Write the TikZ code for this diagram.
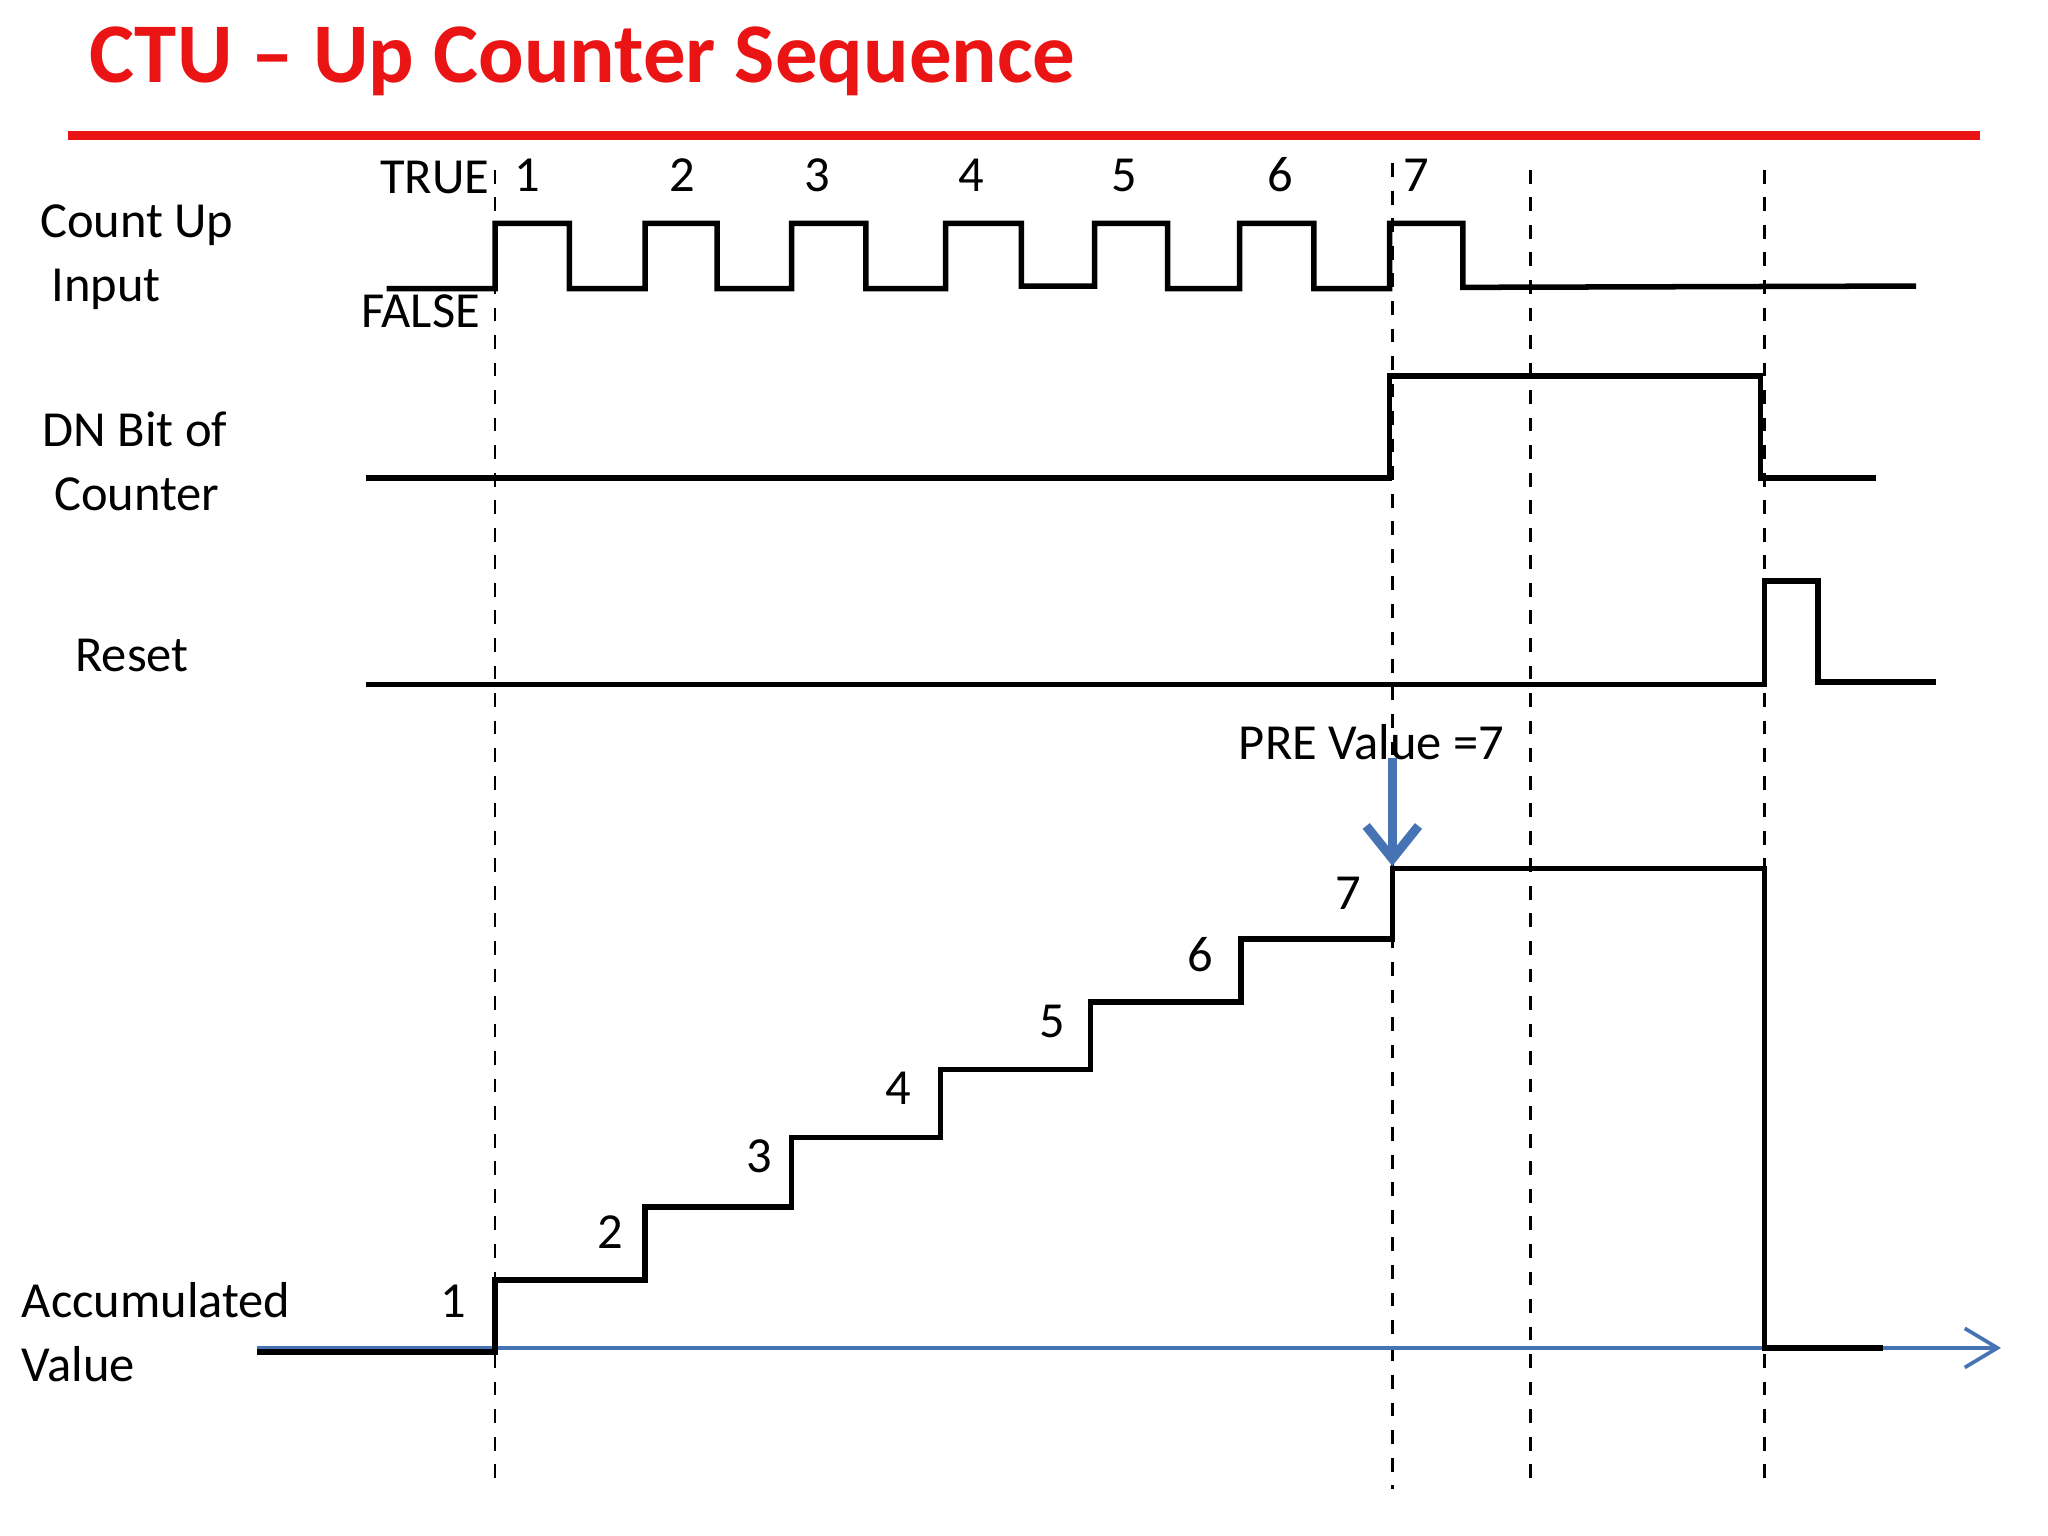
\documentclass[tikz,border=0pt]{standalone}
\usepackage{fontspec}
\setmainfont{Carlito}
\usetikzlibrary{arrows.meta}
\definecolor{tred}{RGB}{235,20,20}
\definecolor{tblue}{RGB}{70,115,180}
\begin{document}
\begin{tikzpicture}[x=0.1mm,y=-0.1mm,
  sig/.style={line width=1.2pt,black},
  grid/.style={dashed,line width=0.6pt},
  lbl/.style={font=\fontsize{11}{13}\selectfont,inner sep=0pt},
  rowlbl/.style={font=\fontsize{11}{14}\selectfont,align=left,anchor=west,inner sep=0pt}]
\useasboundingbox[fill=white] (0,0) rectangle (1568,1176);
\node[anchor=west,text=tred,font=\fontsize{18.5}{20}\selectfont\bfseries,inner sep=0pt] (title) at (68,47) {CTU – Up Counter Sequence};
\draw[tred,line width=2pt] (52,104) -- (1516,104);
% dashed lines
\foreach \x/\a/\b in {379/130/1140,1066/125/1140,1172/130/1135,1351/130/1140}
  \draw[grid] (\x,\a) -- (\x,\b);
% labels
\node[rowlbl] (l1) at (30,197) {Count Up\\ \ Input};
\node[rowlbl] (l2) at (32,353) {DN Bit of\\ \ Counter};
\node[rowlbl] (l3) at (57,502) {Reset};
\node[rowlbl] (l4) at (16,1020) {Accumulated\\Value};
\node[lbl] (tru) at (333,136) {TRUE};
\node[lbl] (fal) at (322,238) {FALSE};
\foreach \x/\n in {404/1,522/2,626/3,744/4,861/5,980/6,1084/7}
  \node[lbl] (c\n) at (\x,134) {\n};
% count up input
\draw[sig] (296,221) -- (379,221) -- (379,171) -- (436,171) -- (436,221)
  -- (494,221) -- (494,171) -- (549,171) -- (549,221)
  -- (606,221) -- (606,171) -- (663,171) -- (663,221)
  -- (724,221) -- (724,171) -- (782,171) -- (782,219)
  -- (838,219) -- (838,171) -- (894,171) -- (894,221)
  -- (949,221) -- (949,171) -- (1006,171) -- (1006,221)
  -- (1064,221) -- (1064,171) -- (1120,171) -- (1120,220) -- (1467,219);
% DN
\draw[sig] (280,366) -- (1064,366) -- (1064,288) -- (1348,288) -- (1348,366) -- (1436,366);
% Reset
\draw[sig] (280,524) -- (1351,524) -- (1351,445) -- (1392,445) -- (1392,522) -- (1482,522);
% axis
\draw[tblue,line width=0.8pt,-{Straight Barb[length=2.5mm,width=3mm]}] (197,1032) -- (1532,1032);
% accumulated
\draw[sig] (197,1035) -- (379,1035) -- (379,980) -- (494,980) -- (494,924) -- (606,924)
  -- (606,871) -- (720,871) -- (720,819) -- (835,819) -- (835,767) -- (950,767)
  -- (950,719) -- (1066,719) -- (1066,665) -- (1351,665) -- (1351,1032) -- (1442,1032);
\foreach \x/\y/\n in {347/996/1,467/943/2,581/885/3,688/833/4,806/782/5,919/731/6,1032/684/7}
  \node[lbl] (s\n) at (\x,\y) {\n};
\node[lbl] (pre) at (1050,568) {PRE Value =7};
\coordinate (pt) at (1066,663);
\draw[tblue,line width=2pt,-{Straight Barb[length=2.5mm,width=4mm]}] (1066,580) -- (pt);
\end{tikzpicture}
\end{document}
